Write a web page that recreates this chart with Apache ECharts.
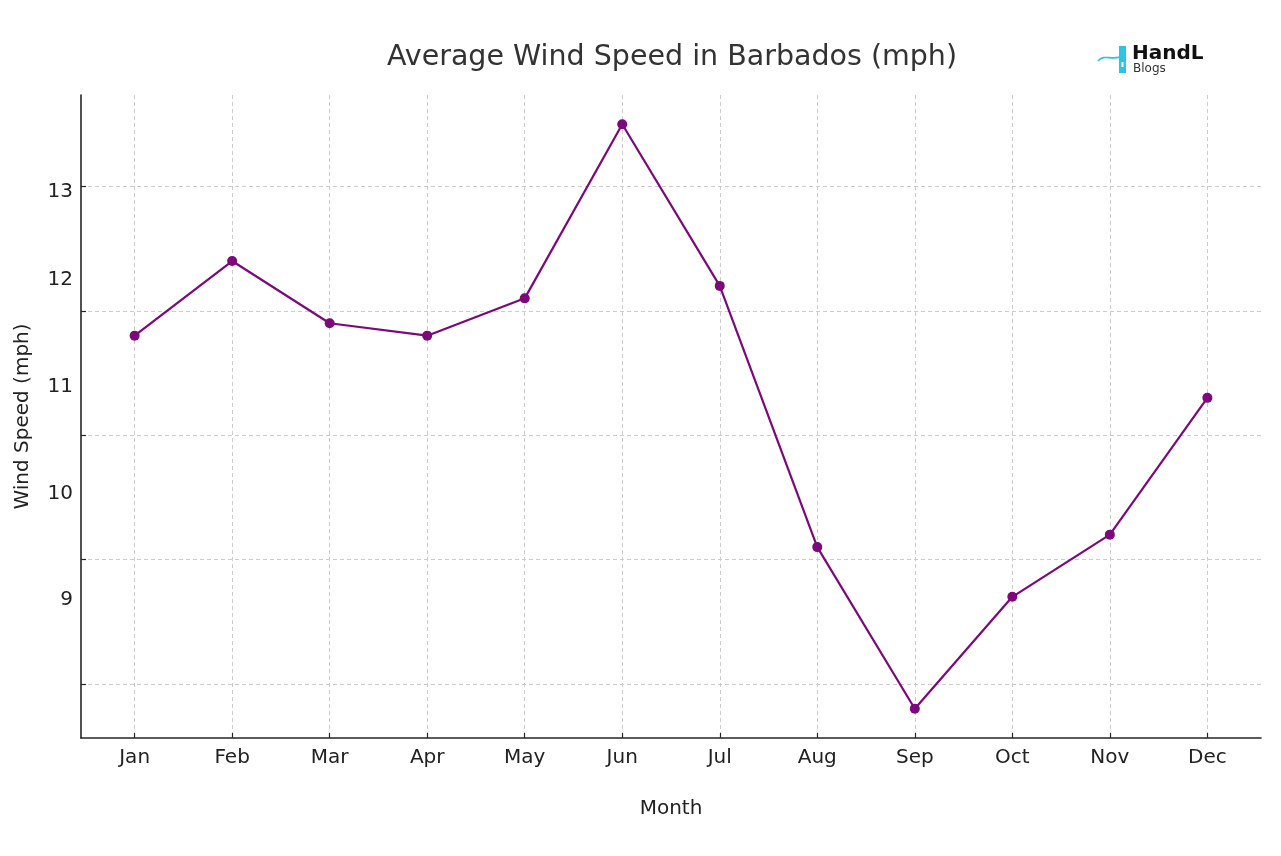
<!DOCTYPE html>
<html>
<head>
<meta charset="utf-8">
<title>Average Wind Speed in Barbados</title>
<script src="https://cdn.jsdelivr.net/npm/echarts@6/dist/echarts.min.js"></script>
<style>
  html, body { margin: 0; padding: 0; background: #ffffff; }
  #chart { width: 1281px; height: 856px; }
</style>
</head>
<body>
<div id="chart"></div>
<script>
const months = ['Jan', 'Feb', 'Mar', 'Apr', 'May', 'Jun', 'Jul', 'Aug', 'Sep', 'Oct', 'Nov', 'Dec'];
const windSpeed = [11.8, 12.4, 11.9, 11.8, 12.1, 13.5, 12.2, 10.1, 8.8, 9.7, 10.2, 11.3];

// gridlines / tick marks
const yTicks = [9, 10, 11, 12, 13];
// the labels in the source don't sit on the gridlines, so they get their own values
const yTickLabels = ['9', '10', '11', '12', '13'];
const yLabelAt = [9.68, 10.53, 11.39, 12.25, 12.96];

const FONT = 'DejaVu Sans';
const LINE_COLOR = '#7c087c';
const AXIS_COLOR = '#262626';

const chart = echarts.init(document.getElementById('chart'), null, { renderer: 'canvas' });

// matplotlib-like 5% margins around the data
const lo = Math.min(...windSpeed);
const hi = Math.max(...windSpeed);
const pad = (hi - lo) * 0.05;
const xPad = (months.length - 1) * 0.05;

const monthIdx = months.map((m, i) => i);

const option = {
  backgroundColor: '#ffffff',
  animation: false,
  title: {
    text: 'Average Wind Speed in Barbados (mph)',
    left: 667,
    top: 38,
    textAlign: 'center',
    textStyle: {
      fontFamily: FONT,
      fontSize: 28.5,
      fontWeight: 'normal',
      color: '#333333',
    },
  },
  grid: {
    left: 81,
    right: 20,
    top: 95,
    bottom: 118,
    outerBoundsMode: 'none',
  },
  xAxis: {
    type: 'value',
    min: -xPad,
    max: months.length - 1 + xPad,
    name: 'Month',
    nameLocation: 'middle',
    nameGap: 61,
    nameTextStyle: { fontFamily: FONT, fontSize: 20, color: '#222222' },
    axisLine: { show: true, onZero: false, lineStyle: { color: AXIS_COLOR, width: 1.6 } },
    axisTick: {
      show: true,
      inside: true,
      length: 5,
      customValues: monthIdx,
      lineStyle: { color: AXIS_COLOR, width: 1.2 },
    },
    axisLabel: {
      customValues: monthIdx,
      margin: 10,
      fontFamily: FONT,
      fontSize: 20,
      color: '#222222',
      formatter: (v) => months[Math.round(v)],
    },
    splitLine: {
      show: true,
      lineStyle: { color: '#cccccc', width: 1, type: [4, 3] },
    },
  },
  yAxis: {
    type: 'value',
    min: lo - pad,
    max: hi + pad,
    name: 'Wind Speed (mph)',
    nameLocation: 'middle',
    nameGap: 48,
    nameTextStyle: { fontFamily: FONT, fontSize: 20, color: '#222222' },
    axisLine: { show: true, onZero: false, lineStyle: { color: AXIS_COLOR, width: 1.6 } },
    axisTick: {
      show: true,
      inside: true,
      length: 5,
      customValues: yTicks,
      lineStyle: { color: AXIS_COLOR, width: 1.2 },
    },
    axisLabel: {
      customValues: yLabelAt,
      margin: 8,
      fontFamily: FONT,
      fontSize: 20,
      color: '#222222',
      formatter: (v) => {
        const i = yLabelAt.findIndex((a) => Math.abs(a - v) < 1e-6);
        return i >= 0 ? yTickLabels[i] : '';
      },
    },
    splitLine: {
      show: true,
      lineStyle: { color: '#cccccc', width: 1, type: [4, 3] },
    },
  },
  series: [
    {
      type: 'line',
      data: windSpeed.map((v, i) => [i, v]),
      symbol: 'circle',
      symbolSize: 10,
      itemStyle: { color: LINE_COLOR },
      lineStyle: { color: LINE_COLOR, width: 2.2 },
    },
  ],
  // HandL Blogs logo, top right
  graphic: [
    {
      type: 'bezierCurve',
      shape: { x1: 1098, y1: 61, x2: 1120, y2: 57, cpx1: 1104, cpy1: 54, cpx2: 1110, cpy2: 60 },
      style: { stroke: '#2bc4e4', lineWidth: 1.6, fill: null },
    },
    {
      type: 'rect',
      shape: { x: 1119, y: 46, width: 7, height: 27 },
      style: { fill: '#2bc4e4' },
    },
    {
      type: 'rect',
      shape: { x: 1121.5, y: 62, width: 2, height: 5 },
      style: { fill: '#ffffff' },
    },
    {
      type: 'text',
      x: 1132,
      y: 44,
      style: { text: 'HandL', fontFamily: FONT, fontSize: 20, fontWeight: 'bold', fill: '#111111' },
    },
    {
      type: 'text',
      x: 1133,
      y: 63,
      style: { text: 'Blogs', fontFamily: FONT, fontSize: 12, fill: '#333333' },
    },
  ],
};

chart.setOption(option);
</script>
</body>
</html>
